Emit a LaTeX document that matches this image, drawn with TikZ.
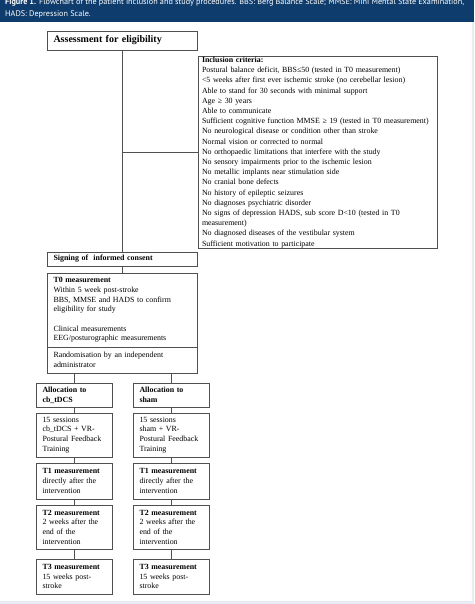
\documentclass[tikz,border=0pt]{standalone}
\usepackage{fontspec}
\setmainfont{Liberation Serif}
\newfontfamily\capfont{PT Sans}

\definecolor{capblue}{RGB}{14,60,108}
\definecolor{boxgray}{RGB}{80,80,80}
\definecolor{pagegray}{RGB}{233,236,242}

\tikzset{
  box/.style={draw=boxgray, line width=0.8pt, anchor=north west, align=left,
    inner xsep=6.5pt, inner ysep=1pt, outer sep=0pt,
    font=\fontsize{7.9}{9.7}\selectfont},
  link/.style={draw=boxgray, line width=0.8pt},
  captext/.style={anchor=base west, inner sep=0pt, text=white,
    font=\capfont\fontsize{8.2}{10}\selectfont}
}

\begin{document}
\begin{tikzpicture}[x=1pt,y=-1pt]
    \useasboundingbox (0,0) rectangle (474,604);

    % caption band, cut at the top
    \fill[capblue] (0,0) rectangle (474,22);
    \begin{scope}
        \clip (0,0) rectangle (474,22);
        \node[captext] (capone) at (5,4.7) {\textbf{Figure 1.} Flowchart of the patient inclusion and study procedures. BBS: Berg Balance Scale; MMSE: Mini Mental State Examination,};
        \node[captext] (captwo) at (5,16.7) {HADS: Depression Scale.};
    \end{scope}
    \fill[pagegray] (472,22) rectangle (474,604);
    \fill[pagegray] (0,601) rectangle (474,604);

    \node[box, inner xsep=6.5pt, text width=137pt, minimum height=19,
          font=\fontsize{10}{12}\selectfont\bfseries] (assess) at (47,31) {Assessment for eligibility};

    \node[box, inner xsep=4pt, text width=231pt, minimum height=191,
          font=\fontsize{7.9}{10.2}\selectfont] (incl) at (198,56) {%
        \textbf{Inclusion criteria:}\\
        Postural balance deficit, BBS≤50 (tested in T0 measurement)\\
        <5 weeks after first ever ischemic stroke (no cerebellar lesion)\\
        Able to stand for 30 seconds with minimal support\\
        Age ≥ 30 years\\
        Able to communicate\\
        Sufficient cognitive function MMSE ≥ 19 (tested in T0 measurement)\\
        No neurological disease or condition other than stroke\\
        Normal vision or corrected to normal\\
        No orthopaedic limitations that interfere with the study\\
        No sensory impairments prior to the ischemic lesion\\
        No metallic implants near stimulation side\\
        No cranial bone defects\\
        No history of epileptic seizures\\
        No diagnoses psychiatric disorder\\
        No signs of depression HADS, sub score D<10 (tested in T0\\
        measurement)\\
        No diagnosed diseases of the vestibular system\\
        Sufficient motivation to participate};

    \node[box, text width=137pt, minimum height=14,
          font=\fontsize{7.9}{9.7}\selectfont\bfseries] (consent) at (47,252) {Signing of\ \ informed consent};

    \node[box, text width=137pt, minimum height=74] (tzero) at (47,273) {%
        \textbf{T0 measurement}\\
        Within 5 week post-stroke\\
        BBS, MMSE and HADS to confirm\\
        eligibility for study\\[9.7pt]
        Clinical measurements\\
        EEG/posturographic measurements};
    \node[box, text width=137pt, minimum height=26] (random) at (47,347) {%
        Randomisation by an independent\\
        administrator};

    \coordinate (branch) at (assess.south |- incl.west);
    \draw[link] (assess.south) -- (consent.north);
    \draw[link] (branch) -- (incl.west);
    \draw[link] (consent.south) -- (tzero.north);

    \foreach \arm/\x/\what in {A/36/cb\_tDCS, B/133/sham}{
        \node[box, text width=63pt, minimum height=24,
              font=\fontsize{7.9}{9.7}\selectfont\bfseries] (alloc\arm) at (\x,383) {Allocation to\\\what};
        \node[box, text width=63pt, minimum height=44] (sess\arm) at (\x,413) {15 sessions\\\what{} + VR-\\Postural Feedback\\Training};
        \node[box, text width=63pt, minimum height=36] (tone\arm) at (\x,463) {\textbf{T1 measurement}\\directly after the\\intervention};
        \node[box, text width=63pt, minimum height=44] (ttwo\arm) at (\x,505) {\textbf{T2 measurement}\\2 weeks after the\\end of the\\intervention};
        \node[box, text width=63pt, minimum height=35] (tthree\arm) at (\x,559) {\textbf{T3 measurement}\\15 weeks post-\\stroke};

        \draw[link] (alloc\arm.north |- random.south) -- (alloc\arm.north);
        \draw[link] (alloc\arm.south) -- (sess\arm.north);
        \draw[link] (sess\arm.south) -- (tone\arm.north);
        \draw[link] (tone\arm.south) -- (ttwo\arm.north);
        \draw[link] (ttwo\arm.south) -- (tthree\arm.north);
    }
\end{tikzpicture}
\end{document}
